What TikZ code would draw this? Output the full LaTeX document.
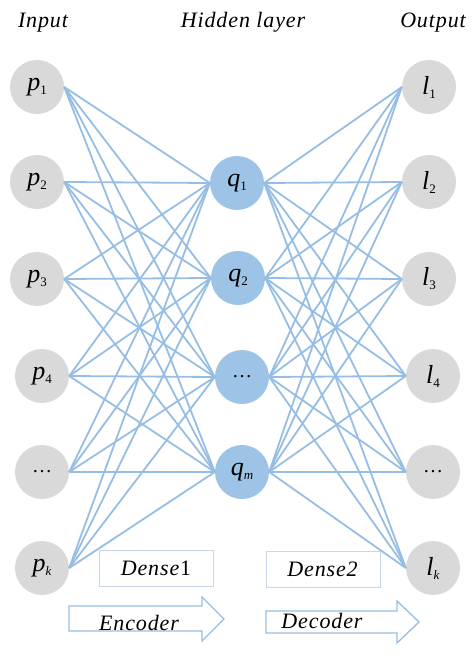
\documentclass[tikz,border=0pt]{standalone}
\usepackage{fontspec}
\setmainfont{Liberation Serif}
\newfontfamily\spaced[LetterSpace=4]{Liberation Serif}
\usetikzlibrary{positioning}
\definecolor{nodegray}{RGB}{217,217,217}
\definecolor{hidblue}{RGB}{157,195,230}
\definecolor{lineblue}{RGB}{150,190,228}
\definecolor{boxline}{RGB}{200,216,232}
\newcommand{\var}[2]{\textit{#1}\raisebox{-4pt}{\fontsize{13}{13}\selectfont #2}}

\tikzset{
  unit/.style={circle,fill=nodegray,minimum size=54pt,inner sep=0pt,font=\fontsize{26}{26}\selectfont},
  hidden/.style={unit,fill=hidblue},
  link/.style={lineblue,line width=1.8pt},
  headlabel/.style={anchor=base,font=\spaced\itshape\fontsize{22}{22}\selectfont},
  densebox/.style={draw=boxline,line width=1pt,minimum width=114pt,minimum height=36pt,inner sep=0pt,font=\spaced\fontsize{22}{22}\selectfont},
  arrowline/.style={draw=lineblue,line width=1.3pt,line join=miter}
}

\begin{document}
\begin{tikzpicture}[x=1pt,y=-1pt]
\useasboundingbox (0,0) rectangle (474,660);

% titles
\node[headlabel] (tin) at (43,28) {Input};
\node[headlabel] (thid) at (243,28) {Hidden layer};
\node[headlabel] (tout) at (433,28) {Output};

% input layer
\node[unit] (p1) at (37,87) {\var{p}{1}};
\node[unit] (p2) at (37,182) {\var{p}{2}};
\node[unit] (p3) at (37,279) {\var{p}{3}};
\node[unit] (p4) at (42,376) {\var{p}{4}};
\node[unit] (p5) at (42,472) {\fontsize{20}{20}\selectfont\dots};
\node[unit] (pk) at (42,568) {\var{p}{\textit{k}}};

% hidden layer
\node[hidden] (q1) at (237,183) {\var{q}{1}};
\node[hidden] (q2) at (238,278) {\var{q}{2}};
\node[hidden] (q3) at (242,377) {\fontsize{20}{20}\selectfont\dots};
\node[hidden] (qm) at (242,472) {\var{q}{\textit{m}}};

% output layer
\node[unit] (l1) at (429,87) {\var{l}{1}};
\node[unit] (l2) at (429,182) {\var{l}{2}};
\node[unit] (l3) at (429,279) {\var{l}{3}};
\node[unit] (l4) at (433,376) {\var{l}{4}};
\node[unit] (l5) at (433,472) {\fontsize{20}{20}\selectfont\dots};
\node[unit] (lk) at (433,568) {\var{l}{\textit{k}}};

% weights
\foreach \a in {p1,p2,p3,p4,p5,pk}
  \foreach \b in {q1,q2,q3,qm}
    \draw[link] (\a.east) -- (\b.west);
\foreach \b in {q1,q2,q3,qm}
  \foreach \c in {l1,l2,l3,l4,l5,lk}
    \draw[link] (\b.east) -- (\c.west);

% dense blocks
\node[densebox] (dense1) at (156,568) {\textit{Dense}1};
\node[densebox] (dense2) at (323,569) {\textit{Dense2}};

% encoder / decoder arrows
\draw[arrowline] (69,606) -- (202,606) -- (202,597) -- (224,619) -- (202,641) -- (202,631) -- (69,631) -- cycle;
\draw[arrowline] (266,611) -- (397,611) -- (397,601) -- (419,622) -- (397,643) -- (397,633) -- (266,633) -- cycle;
\node[headlabel] (enc) at (139,630) {Encoder};
\node[headlabel] (dec) at (322,628) {Decoder};
\end{tikzpicture}
\end{document}
